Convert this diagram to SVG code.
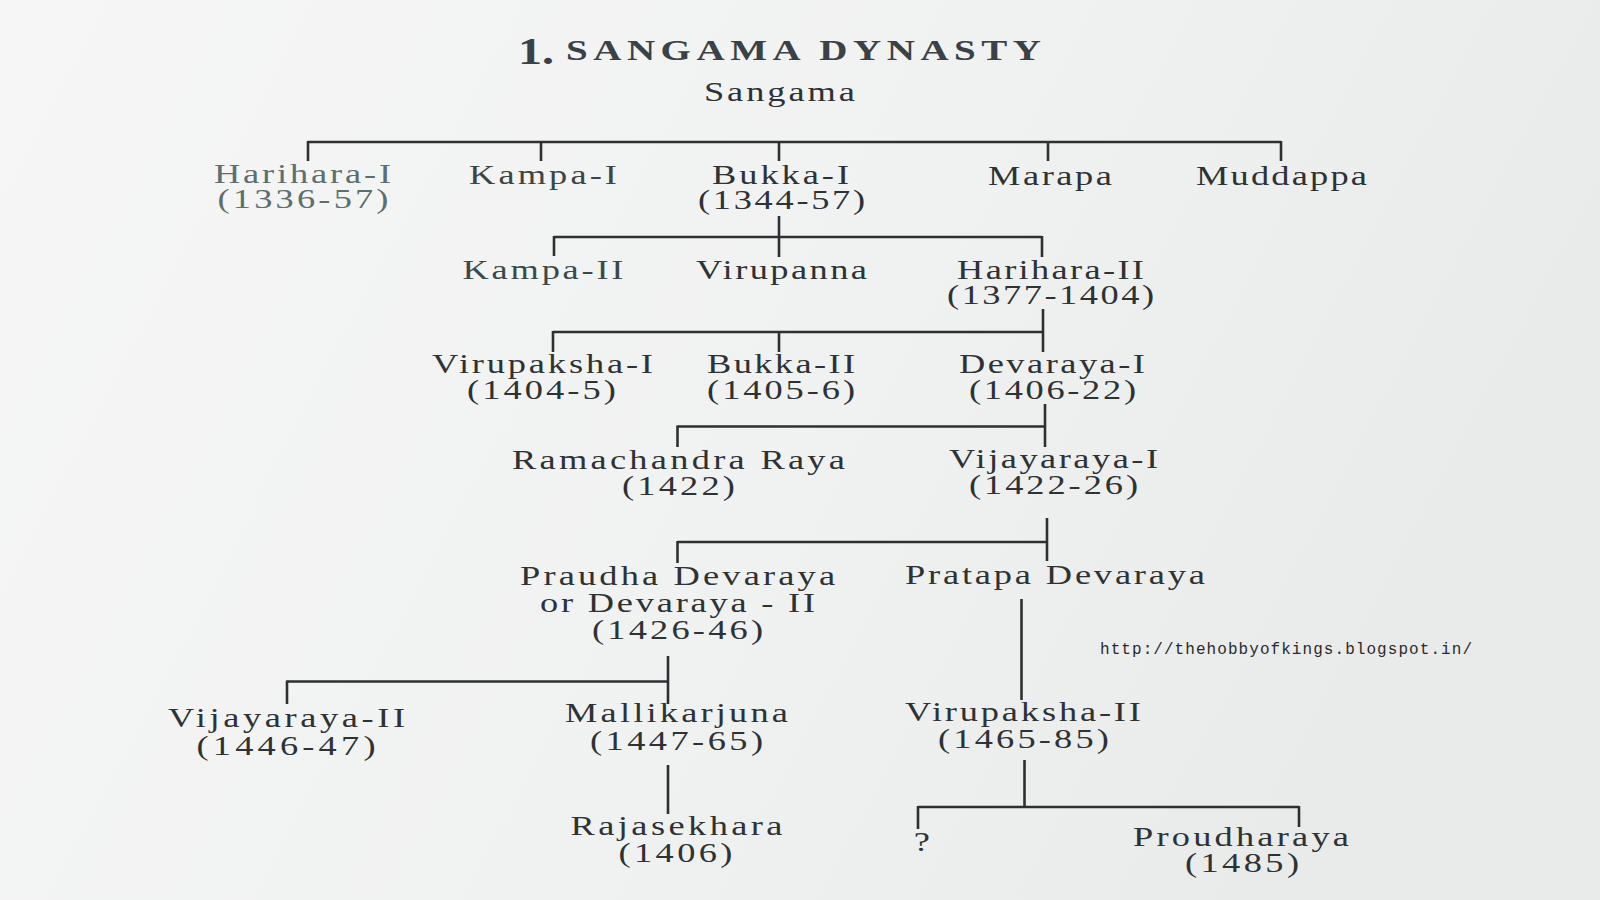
<svg xmlns="http://www.w3.org/2000/svg" width="1600" height="900" viewBox="0 0 1600 900">
<defs>
<linearGradient id="bg" x1="0" y1="0" x2="1" y2="0.3">
<stop offset="0" stop-color="#f5f6f5"/>
<stop offset="0.6" stop-color="#f0f2f1"/>
<stop offset="1" stop-color="#e8ebea"/>
</linearGradient>
</defs>
<style>
.t{font-family:"Liberation Serif","Times New Roman",serif;font-size:28px;fill:#2e3234;text-anchor:middle}
.title{font-family:"Liberation Serif","Times New Roman",serif;font-weight:bold;fill:#3a4147}
.wm{font-family:"Liberation Mono","Courier New",monospace;font-size:16px;fill:#2a2a2a}
.c line{stroke:#2c3032;stroke-width:2.6;stroke-linecap:butt}
</style>
<rect width="1600" height="900" fill="url(#bg)"/>

<g class="c" id="connectors">
<line x1="308" y1="142" x2="1281" y2="142"/>
<line x1="308" y1="141" x2="308" y2="161"/>
<line x1="541" y1="141" x2="541" y2="161"/>
<line x1="779" y1="141" x2="779" y2="161"/>
<line x1="1048" y1="141" x2="1048" y2="161"/>
<line x1="1281" y1="141" x2="1281" y2="161"/>

<line x1="779" y1="216" x2="779" y2="257"/>
<line x1="554" y1="237" x2="1042" y2="237"/>
<line x1="554" y1="236" x2="554" y2="256"/>
<line x1="1042" y1="236" x2="1042" y2="257"/>

<line x1="1043" y1="309" x2="1043" y2="352"/>
<line x1="553" y1="332" x2="1043" y2="332"/>
<line x1="553" y1="331" x2="553" y2="352"/>
<line x1="779" y1="331" x2="779" y2="352"/>

<line x1="1045" y1="404" x2="1045" y2="447"/>
<line x1="677.5" y1="426.5" x2="1045" y2="426.5"/>
<line x1="677.5" y1="425.5" x2="677.5" y2="447"/>

<line x1="1047" y1="518" x2="1047" y2="561"/>
<line x1="677.5" y1="542" x2="1047" y2="542"/>
<line x1="677.5" y1="541" x2="677.5" y2="563"/>

<line x1="668" y1="656" x2="668" y2="704"/>
<line x1="287" y1="681.5" x2="668" y2="681.5"/>
<line x1="287" y1="680.5" x2="287" y2="704"/>

<line x1="1021.5" y1="599" x2="1021.5" y2="700"/>

<line x1="668" y1="765" x2="668" y2="814"/>

<line x1="1024.5" y1="760" x2="1024.5" y2="807"/>
<line x1="918" y1="807" x2="1299" y2="807"/>
<line x1="918" y1="806" x2="918" y2="829"/>
<line x1="1299" y1="806" x2="1299" y2="827"/>
</g>

<g id="watermark"><text class="wm" x="1100" y="654" textLength="372">http://thehobbyofkings.blogspot.in/</text></g>

<g id="labels" transform="scale(1.3,1)">
<g id="title">
<text class="title" x="398.5" y="64" font-size="37">1.</text>
<text class="title" x="435.4" y="60" font-size="30" textLength="365.4">SANGAMA DYNASTY</text>
</g>

<g id="n-sangama"><text class="t" x="599.6" y="101" textLength="116.2">Sangama</text></g>

<g id="n-harihara1">
<text class="t" x="232.7" y="183" textLength="136.2" style="fill:#5c6e6d">Harihara-I</text>
<text class="t" x="233.1" y="208" textLength="131.5" style="fill:#5c6e6d">(1336-57)</text>
</g>
<g id="n-kampa1"><text class="t" x="417.7" y="184" textLength="113.8" style="fill:#3b4645">Kampa-I</text></g>
<g id="n-bukka1">
<text class="t" x="600.4" y="184" textLength="105.4">Bukka-I</text>
<text class="t" x="601.2" y="209" textLength="128.5">(1344-57)</text>
</g>
<g id="n-marapa"><text class="t" x="807.7" y="185" textLength="95.4">Marapa</text></g>
<g id="n-muddappa"><text class="t" x="985.8" y="185" textLength="131.5">Muddappa</text></g>

<g id="n-kampa2"><text class="t" x="417.7" y="279" textLength="123.8" style="fill:#3b4a48">Kampa-II</text></g>
<g id="n-virupanna"><text class="t" x="601.2" y="279" textLength="131.5">Virupanna</text></g>
<g id="n-harihara2">
<text class="t" x="808.1" y="279" textLength="143.8">Harihara-II</text>
<text class="t" x="808.1" y="304" textLength="159.2">(1377-1404)</text>
</g>

<g id="n-virupaksha1">
<text class="t" x="417.3" y="373.5" textLength="170">Virupaksha-I</text>
<text class="t" x="416.5" y="399" textLength="114.6">(1404-5)</text>
</g>
<g id="n-bukka2">
<text class="t" x="600.8" y="373.5" textLength="113.8">Bukka-II</text>
<text class="t" x="600.8" y="399" textLength="113.8">(1405-6)</text>
</g>
<g id="n-devaraya1">
<text class="t" x="809.2" y="373.5" textLength="143.1">Devaraya-I</text>
<text class="t" x="809.6" y="399" textLength="128.5">(1406-22)</text>
</g>

<g id="n-ramachandra">
<text class="t" x="521.9" y="469.5" textLength="256.2">Ramachandra Raya</text>
<text class="t" x="521.9" y="495" textLength="86.9">(1422)</text>
</g>
<g id="n-vijayaraya1">
<text class="t" x="810.4" y="468.5" textLength="160.8">Vijayaraya-I</text>
<text class="t" x="810.4" y="494" textLength="130">(1422-26)</text>
</g>

<g id="n-praudha">
<text class="t" x="521.2" y="585.5" textLength="242.3">Praudha Devaraya</text>
<text class="t" x="521.2" y="612" textLength="211.5">or Devaraya - II</text>
<text class="t" x="521.2" y="639" textLength="131.5">(1426-46)</text>
</g>
<g id="n-pratapa"><text class="t" x="811.5" y="584.5" textLength="230.8">Pratapa Devaraya</text></g>

<g id="n-vijayaraya2">
<text class="t" x="220.4" y="727.5" textLength="182.3">Vijayaraya-II</text>
<text class="t" x="220" y="755" textLength="137.7">(1446-47)</text>
</g>
<g id="n-mallikarjuna">
<text class="t" x="520.4" y="722.5" textLength="171.5">Mallikarjuna</text>
<text class="t" x="520.4" y="750" textLength="133.1">(1447-65)</text>
</g>
<g id="n-virupaksha2">
<text class="t" x="786.9" y="721.5" textLength="181.5">Virupaksha-II</text>
<text class="t" x="787.3" y="748" textLength="131.5">(1465-85)</text>
</g>

<g id="n-rajasekhara">
<text class="t" x="520.4" y="835" textLength="163.1">Rajasekhara</text>
<text class="t" x="519.6" y="862" textLength="87.7">(1406)</text>
</g>
<g id="n-unknown"><text class="t" x="709.2" y="851">?</text></g>
<g id="n-proudharaya">
<text class="t" x="954.6" y="846" textLength="166.2">Proudharaya</text>
<text class="t" x="955.4" y="872.5" textLength="87.7">(1485)</text>
</g>
</g>
</svg>
